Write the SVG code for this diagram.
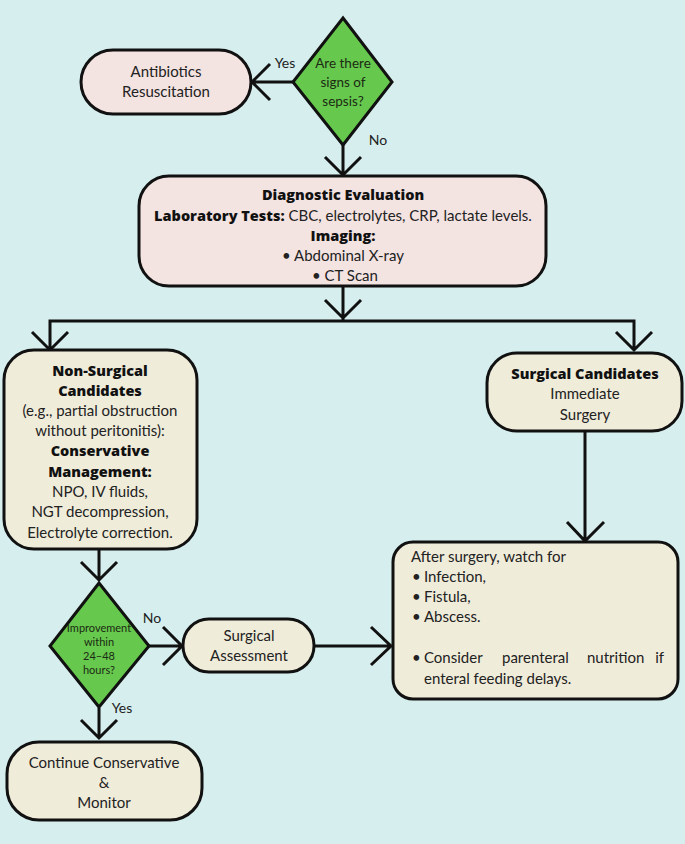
<svg xmlns="http://www.w3.org/2000/svg" width="685" height="844" viewBox="0 0 685 844">
<style>
.bg{fill:#d6eeee}
.pink{fill:#f3e3e1;stroke:#111;stroke-width:3}
.cream{fill:#f0ecda;stroke:#111;stroke-width:3}
.dia{fill:#66c84c;stroke:#111;stroke-width:3;stroke-linejoin:miter}
.ln{fill:none;stroke:#111;stroke-width:3}
text{font-family:Lato,"Liberation Sans",sans-serif;font-size:15px;fill:#222}
.c{text-anchor:middle}
.b{font-family:"Open Sans",Lato,sans-serif;font-weight:800;font-size:14.5px;fill:#111}
.s{font-size:13.5px;fill:#1c2a14}
.xs{font-size:11px;fill:#1c2a14}
.lab{font-size:14px}
</style>
<rect class="bg" x="0" y="0" width="685" height="844"/>
<g id="connectors">
<path class="ln" d="M293 82H252M270 64L252 82L270 100"/>
<text class="lab" x="285" y="68" text-anchor="middle">Yes</text>
<path class="ln" d="M343 145V175M325 157L343 175L361 157"/>
<text class="lab" x="378" y="145" text-anchor="middle">No</text>
<path class="ln" d="M343 286V320M325 300L343 318L361 300"/>
<path class="ln" d="M50 350V321H634V350M32 332L50 350L68 332M616 332L634 350L652 332"/>
<path class="ln" d="M99 549V580M81 562L99 580L117 562"/>
<path class="ln" d="M149 646H182M163 627L182 646L163 665"/>
<text class="lab" x="152" y="623" text-anchor="middle">No</text>
<path class="ln" d="M99 708V738M81 720L99 738L117 720"/>
<text class="lab" x="122" y="713" text-anchor="middle">Yes</text>
<path class="ln" d="M314 646H391M371 627L391 646L371 665"/>
<path class="ln" d="M585 431V541M567 522L585 541L604 522"/>
</g>
<g id="antibiotics">
<rect class="pink" x="81" y="50" width="170" height="64" rx="32"/>
<text class="c" x="166" y="77">Antibiotics</text>
<text class="c" x="166" y="97">Resuscitation</text>
</g>
<g id="sepsis">
<polygon class="dia" points="343,18 392,82 343,145 293,82"/>
<text class="c s" x="343" y="68">Are there</text>
<text class="c s" x="343" y="87">signs of</text>
<text class="c s" x="343" y="106">sepsis?</text>
</g>
<g id="diagnostic">
<rect class="pink" x="139" y="176" width="407" height="110" rx="30"/>
<text class="c b" x="343" y="200">Diagnostic Evaluation</text>
<text class="c" x="343" y="221"><tspan class="b">Laboratory Tests:</tspan> CBC, electrolytes, CRP, lactate levels.</text>
<text class="c b" x="343" y="241">Imaging:</text>
<text class="c" x="343" y="261">• Abdominal X-ray</text>
<text class="c" x="345" y="281">• CT Scan</text>
</g>
<g id="nonsurgical">
<rect class="cream" x="4" y="350" width="193" height="199" rx="30"/>
<text class="c b" x="100" y="376">Non-Surgical</text>
<text class="c b" x="100" y="396">Candidates</text>
<text class="c" x="100" y="416">(e.g., partial obstruction</text>
<text class="c" x="100" y="436">without peritonitis):</text>
<text class="c b" x="100" y="456">Conservative</text>
<text class="c b" x="100" y="477">Management:</text>
<text class="c" x="100" y="497">NPO, IV fluids,</text>
<text class="c" x="100" y="517">NGT decompression,</text>
<text class="c" x="100" y="538">Electrolyte correction.</text>
</g>
<g id="improvement">
<polygon class="dia" points="99,583 149,646 99,707 50,646"/>
<text class="c xs" x="99" y="632">Improvement</text>
<text class="c xs" x="99" y="646">within</text>
<text class="c xs" x="99" y="660">24–48</text>
<text class="c xs" x="99" y="674">hours?</text>
</g>
<g id="assessment">
<rect class="cream" x="183" y="619" width="131" height="53" rx="26"/>
<text class="c" x="249" y="641">Surgical</text>
<text class="c" x="249" y="661">Assessment</text>
</g>
<g id="continue">
<rect class="cream" x="7" y="742" width="195" height="78" rx="32"/>
<text class="c" x="104" y="768">Continue Conservative</text>
<text class="c" x="104" y="788">&amp;</text>
<text class="c" x="104" y="808">Monitor</text>
</g>
<g id="surgical">
<rect class="cream" x="487" y="353" width="195" height="78" rx="30"/>
<text class="c b" x="585" y="379">Surgical Candidates</text>
<text class="c" x="585" y="399">Immediate</text>
<text class="c" x="585" y="420">Surgery</text>
</g>
<g id="aftersurgery">
<rect class="cream" x="393" y="542" width="285" height="157" rx="20"/>
<text x="411" y="562">After surgery, watch for</text>
<text x="412" y="582">•</text><text x="424" y="582">Infection,</text>
<text x="412" y="602">•</text><text x="424" y="602">Fistula,</text>
<text x="412" y="622">•</text><text x="424" y="622">Abscess.</text>
<text x="412" y="663">•</text><text x="424" y="663">Consider</text>
<text x="502" y="663">parenteral</text>
<text x="587" y="663">nutrition</text>
<text x="664" y="663" text-anchor="end">if</text>
<text x="424" y="684">enteral feeding delays.</text>
</g>
</svg>
